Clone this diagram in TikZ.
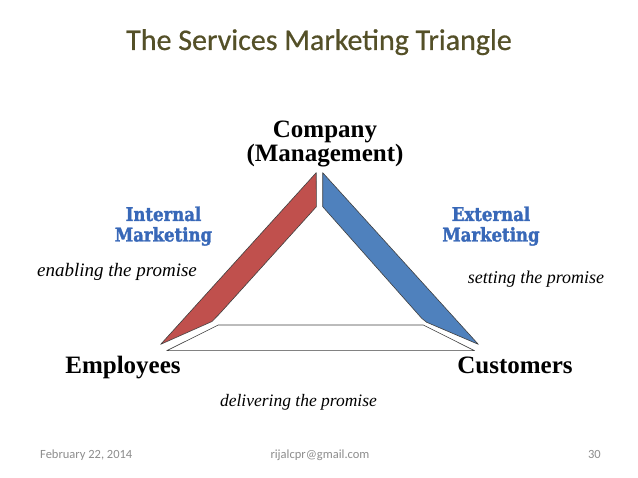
\documentclass[tikz,border=0pt]{standalone}
\usepackage{fontspec}
\setmainfont{Liberation Serif}
\newfontfamily\titlefont{Carlito}
\newfontfamily\titleboldfont[FakeBold=0.6]{Carlito}
\newfontfamily\slabfont[FakeStretch=0.87, FakeBold=1.6]{DejaVu Serif}
\usetikzlibrary{positioning}
\definecolor{titlecolor}{RGB}{84,80,40}
\definecolor{sidered}{RGB}{192,80,77}
\definecolor{sideblue}{RGB}{79,129,189}
\definecolor{mktblue}{RGB}{56,104,184}
\definecolor{footgray}{RGB}{140,140,140}
\tikzset{
  corner/.style  = {font=\fontsize{25}{27}\selectfont\bfseries, anchor=base, inner sep=0pt},
  mkt/.style     = {font=\slabfont\bfseries\fontsize{19}{19}\selectfont, text=mktblue,
                    anchor=base, inner sep=0pt},
  promise/.style = {font=\itshape\fontsize{19}{19}\selectfont, anchor=base, inner sep=0pt},
  foot/.style    = {font=\titlefont\fontsize{12.5}{12.5}\selectfont, text=footgray,
                    anchor=base, inner sep=0pt},
  side/.style    = {draw=black!75, line width=0.6pt, line join=round},
}
\begin{document}
\begin{tikzpicture}[x=1pt, y=-1pt]
\useasboundingbox (0,0) rectangle (638,478);

% ---------------- title ----------------
\node[anchor=base, inner sep=0pt, text=titlecolor,
      font=\titleboldfont\fontsize{30}{30}\selectfont] (title) at (319,50)
  {The Services Marketing Triangle};

% ---------------- triangle sides ----------------
\coordinate (redtip)   at (160.7,344.3);
\coordinate (redtop)   at (316.2,172.7);
\coordinate (redin)    at (316.4,206.7);
\coordinate (redlow)   at (220,313.3);
\coordinate (redfoot)  at (212,321.5);
\coordinate (bluetop)  at (322.7,172.7);
\coordinate (bluetip)  at (478.3,344.3);
\coordinate (bluefoot) at (426.7,322.3);
\coordinate (bluelow)  at (421.7,318.3);
\coordinate (bluein)   at (322.7,206.7);

\draw[side, fill=sidered] (redtip) -- (redtop) -- (redin) -- (redlow) -- (redfoot) -- cycle;
\draw[side, fill=sideblue] (bluetop) -- (bluetip) -- (bluefoot) -- (bluelow) -- (bluein) -- cycle;
\draw[side, fill=white] (166.7,350.7) -- (218.3,325) -- (423.3,325) -- (474.5,350.7) -- cycle;

% ---------------- corners ----------------
\node[corner] (company) at (325,137.5) {Company};
\node[corner] (mgmt) at (325,162) {(Management)};
\node[corner] (employees) at (123,374) {Employees};
\node[corner] (customers) at (515,374) {Customers};

% ---------------- sides ----------------
\node[mkt] (intl1) at (163.5,221) {Internal};
\node[mkt] (intl2) at (163.5,241.5) {Marketing};
\node[mkt] (extl1) at (491,221) {External};
\node[mkt] (extl2) at (491,241.5) {Marketing};

\node[promise] (enabling) at (117,277) {enabling the promise};
\node[promise, font=\itshape\fontsize{18}{18}\selectfont] (setting) at (536,284) {setting the promise};
\node[promise, font=\itshape\fontsize{17.5}{17.5}\selectfont] (delivering) at (298.5,407) {delivering the promise};

% ---------------- footer ----------------
\node[foot, anchor=base west] (date) at (40,459) {February 22, 2014};
\node[foot] (mail) at (320,459) {rijalcpr@gmail.com};
\node[foot, anchor=base east] (page) at (601,459) {30};

\end{tikzpicture}
\end{document}
